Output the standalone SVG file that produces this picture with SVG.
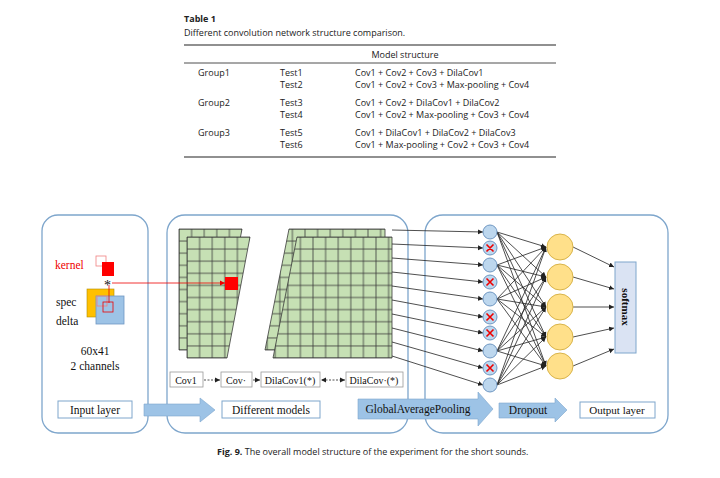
<svg xmlns="http://www.w3.org/2000/svg" width="720" height="478" viewBox="0 0 720 478">
<style>
.t{font-family:"Open Sans","Liberation Sans",Arial,sans-serif;font-size:9px;fill:#222}
.s{font-family:"Liberation Serif","Times New Roman",serif;fill:#111}
.panel{fill:none;stroke:#7ea6cc;stroke-width:1.3}
.lbl{fill:#fff;stroke:#7ea6cc;stroke-width:1}
.cb{fill:#fff;stroke:#999;stroke-width:0.8}
.ln{stroke:#222;stroke-width:0.8;fill:none}
.n{fill:#bdd7ee;stroke:#6f97c2;stroke-width:1}
.y{fill:#ffe08a;stroke:#d9b44a;stroke-width:1}
.x{stroke:#e00;stroke-width:1.6}
</style>
<defs>
<marker id="a" markerWidth="6" markerHeight="6" refX="5" refY="3" orient="auto" markerUnits="userSpaceOnUse"><path d="M0,0.5 L5,3 L0,5.5z" fill="#222"/></marker>
<marker id="ar" markerWidth="6" markerHeight="6" refX="5" refY="3" orient="auto" markerUnits="userSpaceOnUse"><path d="M0,0.5 L5,3 L0,5.5z" fill="#e00"/></marker>
<pattern id="grid" x="187" y="237" width="12.6" height="12.1" patternUnits="userSpaceOnUse"><rect width="12.6" height="12.1" fill="#c6e0b4" stroke="#3a3a3a" stroke-width="0.8"/></pattern>
<pattern id="grid2" x="179" y="229" width="12.6" height="12.1" patternUnits="userSpaceOnUse"><rect width="12.6" height="12.1" fill="#c6e0b4" stroke="#3a3a3a" stroke-width="0.8"/></pattern>
</defs>
<rect width="720" height="478" fill="#fff"/>
<g id="table">
<text class="t" x="184" y="22" font-weight="bold">Table 1</text>
<text class="t" x="184" y="36">Different convolution network structure comparison.</text>
<line x1="184" y1="45" x2="556" y2="45" stroke="#222" stroke-width="1.2"/>
<text class="t" x="405" y="58" text-anchor="middle">Model structure</text>
<line x1="184" y1="63" x2="556" y2="63" stroke="#222" stroke-width="0.8"/>
<text class="t" x="198" y="76">Group1</text><text class="t" x="280" y="76">Test1</text><text class="t" x="355" y="76">Cov1 + Cov2 + Cov3 + DilaCov1</text>
<text class="t" x="280" y="88">Test2</text><text class="t" x="355" y="88">Cov1 + Cov2 + Cov3 + Max-pooling + Cov4</text>
<text class="t" x="198" y="106">Group2</text><text class="t" x="280" y="106">Test3</text><text class="t" x="355" y="106">Cov1 + Cov2 + DilaCov1 + DilaCov2</text>
<text class="t" x="280" y="118">Test4</text><text class="t" x="355" y="118">Cov1 + Cov2 + Max-pooling + Cov3 + Cov4</text>
<text class="t" x="198" y="136">Group3</text><text class="t" x="280" y="136">Test5</text><text class="t" x="355" y="136">Cov1 + DilaCov1 + DilaCov2 + DilaCov3</text>
<text class="t" x="280" y="148">Test6</text><text class="t" x="355" y="148">Cov1 + Max-pooling + Cov2 + Cov3 + Cov4</text>
<line x1="184" y1="157" x2="556" y2="157" stroke="#222" stroke-width="1.2"/>
</g>
<g id="panels">
<rect class="panel" x="42" y="215" width="106" height="218" rx="16"/>
<rect class="panel" x="167" y="215" width="241" height="218" rx="18"/>
<rect class="panel" x="425" y="215" width="243" height="218" rx="18"/>
</g>
<g id="input">
<text class="s" x="55" y="269" font-size="11.5" style="fill:#e00">kernel</text>
<rect x="96" y="256" width="10" height="10" fill="none" stroke="#f08080" stroke-width="0.8"/>
<rect x="102" y="262" width="12" height="14" fill="#f00"/>
<text class="s" x="104" y="290" font-size="14">*</text>
<rect x="87" y="289" width="27" height="28" fill="#ffc000" stroke="#b08a00" stroke-width="0.6"/>
<rect x="96" y="296" width="28" height="28" fill="#9dc3e6" stroke="#6f97c2" stroke-width="0.8"/>
<rect x="97" y="296" width="10" height="10" fill="none" stroke="#f08080" stroke-width="0.8"/>
<rect x="103" y="302" width="10" height="10" fill="none" stroke="#e00" stroke-width="0.8"/>
<line x1="109" y1="285" x2="109" y2="303" stroke="#e00" stroke-width="0.8"/>
<text class="s" x="56" y="306" font-size="11.5">spec</text>
<text class="s" x="56" y="325" font-size="11.5">delta</text>
<text class="s" x="95" y="355" font-size="11.5" text-anchor="middle">60x41</text>
<text class="s" x="95" y="370" font-size="11.5" text-anchor="middle">2 channels</text>
<rect class="lbl" x="58" y="401" width="74" height="17"/>
<text class="s" x="95" y="414" font-size="11.5" text-anchor="middle">Input layer</text>
</g>
<g id="arrow1"><path d="M144,404 H200 V398 L215,410 L200,422 V416 H144z" fill="#9dc3e6" stroke="#7ea6cc" stroke-width="0.6"/></g>
<g id="grids">
<polygon points="179,229 242,229 219,350 179,350" fill="url(#grid2)" stroke="#3a3a3a" stroke-width="0.8"/>
<polygon points="289,229 385,229 385,350 265,350" fill="url(#grid2)" stroke="#3a3a3a" stroke-width="0.8"/>
<polygon points="187,237 250,237 227,358 187,358" fill="url(#grid)" stroke="#3a3a3a" stroke-width="0.8"/>
<polygon points="297,237 392,237 392,358 273,358" fill="url(#grid)" stroke="#3a3a3a" stroke-width="0.8"/>
<rect x="225" y="277" width="13" height="13" fill="#f00"/>
<line x1="112" y1="283" x2="225" y2="283" stroke="#e00" stroke-width="0.8" marker-end="url(#ar)"/>
</g>
<g id="chain">
<rect class="cb" x="170" y="372" width="33" height="15"/><text class="s" x="186" y="383.5" font-size="10" text-anchor="middle">Cov1</text>
<rect class="cb" x="221" y="372" width="31" height="15"/><text class="s" x="236" y="383.5" font-size="10" text-anchor="middle">Cov·</text>
<rect class="cb" x="261" y="372" width="59" height="15"/><text class="s" x="290" y="383.5" font-size="10" text-anchor="middle">DilaCov1(*)</text>
<rect class="cb" x="346" y="372" width="57" height="15"/><text class="s" x="374" y="383.5" font-size="10" text-anchor="middle">DilaCov·(*)</text>
<line x1="204" y1="380" x2="220" y2="380" class="ln" stroke-dasharray="2,1.5" marker-end="url(#a)"/>
<line x1="253" y1="380" x2="260" y2="380" class="ln" marker-end="url(#a)"/>
<line x1="322" y1="380" x2="345" y2="380" class="ln" stroke-dasharray="2,1.5" marker-end="url(#a)"/>
<path d="M321,380 l5,-2.5 v5z" fill="#222"/>
<rect class="lbl" x="222" y="401" width="98" height="17"/>
<text class="s" x="271" y="414" font-size="11.5" text-anchor="middle">Different  models</text>
</g>
<g id="gap"><path d="M358,399 H478 V392 L493,409 L478,426 V419 H358z" fill="#9dc3e6" stroke="#7ea6cc" stroke-width="0.6"/>
<text class="s" x="418" y="413" font-size="11.5" text-anchor="middle">GlobalAveragePooling</text></g>
<g id="dropout"><path d="M499,403 H555 V398 L567,410 L555,422 V418 H499z" fill="#9dc3e6" stroke="#7ea6cc" stroke-width="0.6"/>
<text class="s" x="528" y="414" font-size="11.5" text-anchor="middle">Dropout</text></g>
<g id="output"><rect class="lbl" x="580" y="402" width="75" height="16"/>
<text class="s" x="617" y="414" font-size="11" text-anchor="middle">Output layer</text></g>
<g id="connectors">
<g class="ln" marker-end="url(#a)">
<line x1="392" y1="230" x2="483" y2="232"/><line x1="392" y1="244" x2="483" y2="248"/>
<line x1="392" y1="258" x2="483" y2="265"/><line x1="392" y1="272" x2="483" y2="282"/>
<line x1="392" y1="286" x2="483" y2="299"/><line x1="392" y1="300" x2="483" y2="317"/>
<line x1="392" y1="314" x2="483" y2="333"/><line x1="392" y1="328" x2="483" y2="351"/>
<line x1="392" y1="342" x2="483" y2="368"/><line x1="392" y1="356" x2="483" y2="385"/>
</g>
<g class="ln" stroke-width="0.6" marker-end="url(#a)">
<line x1="497" y1="232" x2="546" y2="247"/><line x1="497" y1="232" x2="546" y2="277"/><line x1="497" y1="232" x2="546" y2="307"/><line x1="497" y1="232" x2="546" y2="337"/><line x1="497" y1="232" x2="546" y2="366"/>
<line x1="497" y1="265" x2="546" y2="247"/><line x1="497" y1="265" x2="546" y2="277"/><line x1="497" y1="265" x2="546" y2="307"/><line x1="497" y1="265" x2="546" y2="337"/><line x1="497" y1="265" x2="546" y2="366"/>
<line x1="497" y1="299" x2="546" y2="247"/><line x1="497" y1="299" x2="546" y2="277"/><line x1="497" y1="299" x2="546" y2="307"/><line x1="497" y1="299" x2="546" y2="337"/><line x1="497" y1="299" x2="546" y2="366"/>
<line x1="497" y1="351" x2="546" y2="247"/><line x1="497" y1="351" x2="546" y2="277"/><line x1="497" y1="351" x2="546" y2="307"/><line x1="497" y1="351" x2="546" y2="337"/><line x1="497" y1="351" x2="546" y2="366"/>
<line x1="497" y1="385" x2="546" y2="247"/><line x1="497" y1="385" x2="546" y2="277"/><line x1="497" y1="385" x2="546" y2="307"/><line x1="497" y1="385" x2="546" y2="337"/><line x1="497" y1="385" x2="546" y2="366"/>
</g>
<g class="ln" marker-end="url(#a)">
<line x1="573" y1="247" x2="614" y2="267"/><line x1="573" y1="277" x2="614" y2="289"/>
<line x1="573" y1="307" x2="614" y2="307"/><line x1="573" y1="337" x2="614" y2="328"/>
<line x1="573" y1="366" x2="614" y2="349"/>
</g>
</g>
<g id="neurons">
<circle class="n" cx="490" cy="232" r="7"/><circle class="n" cx="490" cy="248" r="7"/>
<circle class="n" cx="490" cy="265" r="7"/><circle class="n" cx="490" cy="282" r="7"/>
<circle class="n" cx="490" cy="299" r="7"/><circle class="n" cx="490" cy="317" r="7"/>
<circle class="n" cx="490" cy="333" r="7"/><circle class="n" cx="490" cy="351" r="7"/>
<circle class="n" cx="490" cy="368" r="7"/><circle class="n" cx="490" cy="385" r="7"/>
<path class="x" d="M486.5,244.5l7,7m0,-7l-7,7 M486.5,278.5l7,7m0,-7l-7,7 M486.5,313.5l7,7m0,-7l-7,7 M486.5,329.5l7,7m0,-7l-7,7 M486.5,364.5l7,7m0,-7l-7,7"/>
</g>
<g id="hidden">
<circle class="y" cx="560" cy="247" r="13"/><circle class="y" cx="560" cy="277" r="13"/>
<circle class="y" cx="560" cy="307" r="13"/><circle class="y" cx="560" cy="337" r="13"/>
<circle class="y" cx="560" cy="366" r="13"/>
</g>
<g id="softmax"><rect x="615" y="262" width="21" height="91" fill="#dae3f3" stroke="#7ea6cc"/>
<text class="s" transform="translate(622,307) rotate(90)" font-size="11" font-weight="bold" text-anchor="middle">softmax</text></g>
<g id="caption"><text class="t" x="217" y="455"><tspan font-weight="bold">Fig. 9.</tspan> The overall model structure of the experiment for the short sounds.</text></g>
</svg>
